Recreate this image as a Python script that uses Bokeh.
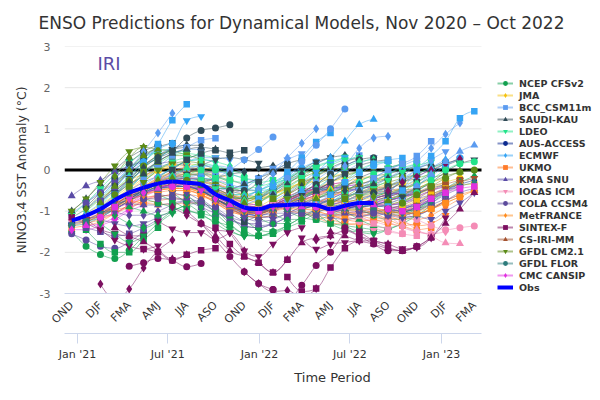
import math
from datetime import date

from bokeh.plotting import figure
from bokeh.models import (Range1d, LinearAxis, FixedTicker, Label, Legend, LegendItem,
                          ColumnDataSource)
from bokeh.core.properties import field
from bokeh.embed import file_html
from bokeh.resources import INLINE

# ---------------------------------------------------------------- data
seasons = ["OND", "NDJ", "DJF", "JFM", "FMA", "MAM", "AMJ", "MJJ", "JJA", "JAS", "ASO", "SON",
           "OND", "NDJ", "DJF", "JFM", "FMA", "MAM", "AMJ", "MJJ", "JJA", "JAS", "ASO", "SON",
           "OND", "NDJ", "DJF", "JFM", "FMA"]

# forecast issue months; issue k starts at season k and runs six seasons
issue_months = ["Nov 2020", "Dec 2020", "Jan 2021", "Feb 2021", "Mar 2021", "Apr 2021",
                "May 2021", "Jun 2021", "Jul 2021", "Aug 2021", "Sep 2021", "Oct 2021",
                "Nov 2021", "Dec 2021", "Jan 2022", "Feb 2022", "Mar 2022", "Apr 2022",
                "May 2022", "Jun 2022", "Jul 2022", "Aug 2022", "Sep 2022", "Oct 2022"]

obs_anom = [-1.23, -1.11, -0.95, -0.73, -0.55, -0.43, -0.33, -0.28, -0.31, -0.35, -0.59,
            -0.74, -0.91, -0.95, -0.86, -0.85, -0.83, -0.85, -0.95, -0.87, -0.80, -0.80]

date_ticks = [date(2021, 1, 1), date(2021, 7, 1), date(2022, 1, 1), date(2022, 7, 1), date(2023, 1, 1)]
date_tick_labels = ["Jan '21", "Jul '21", "Jan '22", "Jul '22", "Jan '23"]

y_ticks = [-3, -2, -1, 0, 1, 2, 3]

ncep_cfsv2 = [
    [-1.5, -1.85, -2.05, -2.15, -1.95, -1.6], [-1.45, -1.8, -2.0, -2.0, -1.7, -1.4],
    [-1.3, -1.55, -1.75, -1.6, -1.3, -1.05], [-1.1, -1.3, -1.4, -1.25, -1.0, -0.85],
    [-0.9, -1.0, -1.1, -1.0, -0.85, -0.8], [-0.7, -0.8, -0.9, -1.0, -1.05, -1.15],
    [-0.6, -0.75, -0.95, -1.1, -1.25, -1.35], [-0.55, -0.8, -1.05, -1.3, -1.5, -1.6],
    [-0.6, -0.9, -1.2, -1.45, -1.6, -1.6], [-0.7, -1.05, -1.35, -1.55, -1.6, -1.5],
    [-0.95, -1.3, -1.55, -1.6, -1.5, -1.35], [-1.1, -1.45, -1.6, -1.55, -1.4, -1.25],
    [-1.2, -1.45, -1.5, -1.35, -1.15, -1.0], [-1.15, -1.3, -1.3, -1.15, -0.95, -0.85],
    [-1.05, -1.2, -1.2, -1.05, -0.9, -0.85], [-1.0, -1.15, -1.2, -1.1, -1.0, -0.95],
    [-1.0, -1.2, -1.3, -1.35, -1.4, -1.45], [-1.05, -1.3, -1.45, -1.5, -1.5, -1.45],
    [-1.1, -1.35, -1.5, -1.55, -1.45, -1.3], [-1.0, -1.2, -1.35, -1.4, -1.3, -1.1],
    [-0.95, -1.1, -1.2, -1.2, -1.1, -0.85], [-0.95, -1.05, -1.1, -1.0, -0.8, -0.55],
    [-1.0, -1.05, -0.95, -0.7, -0.45, -0.25], [-1.0, -0.95, -0.75, -0.5, -0.3, -0.15]]

jma = [
    [-1.15, -0.95, -0.7, -0.45, -0.25, -0.1], [-1.05, -0.85, -0.6, -0.35, -0.15, 0.0],
    [-0.9, -0.65, -0.4, -0.15, 0.0, 0.05], [-0.7, -0.45, -0.2, 0.0, 0.1, 0.1],
    [-0.5, -0.25, -0.05, 0.1, 0.15, 0.1], [-0.4, -0.2, -0.05, 0.05, 0.05, 0.0],
    [-0.3, -0.15, -0.05, -0.05, -0.1, -0.2], [-0.25, -0.15, -0.1, -0.15, -0.25, -0.35],
    [-0.3, -0.3, -0.35, -0.45, -0.5, -0.5], [-0.4, -0.5, -0.6, -0.65, -0.65, -0.6],
    [-0.55, -0.65, -0.7, -0.65, -0.55, -0.45], [-0.7, -0.75, -0.7, -0.6, -0.45, -0.3],
    [-0.85, -0.75, -0.6, -0.45, -0.3, -0.2], [-0.9, -0.7, -0.5, -0.35, -0.25, -0.2],
    [-0.8, -0.6, -0.4, -0.25, -0.15, -0.1], [-0.8, -0.65, -0.45, -0.3, -0.2, -0.15],
    [-0.8, -0.65, -0.45, -0.3, -0.2, -0.15], [-0.8, -0.65, -0.5, -0.35, -0.25, -0.2],
    [-0.9, -0.75, -0.6, -0.45, -0.35, -0.3], [-0.8, -0.7, -0.55, -0.45, -0.35, -0.3],
    [-0.75, -0.65, -0.55, -0.45, -0.35, -0.25], [-0.75, -0.7, -0.6, -0.45, -0.3, -0.2],
    [-0.85, -0.75, -0.6, -0.45, -0.3, -0.2], [-0.9, -0.75, -0.6, -0.45, -0.35, -0.35]]

bcc_csm11m = [
    [-1.05, -0.8, -0.5, -0.2, 0.05, 0.25], [-0.95, -0.65, -0.3, 0.05, 0.35, 0.55],
    [-0.8, -0.45, 0.0, 0.45, 0.9, 1.38], [-0.6, -0.3, 0.05, 0.35, 0.55, 0.6],
    [-0.45, -0.1, 0.2, 0.4, 0.5, 0.5], [-0.25, 0.05, 0.35, 0.55, 0.72, 0.77],
    [-0.2, 0.05, 0.2, 0.3, 0.3, 0.25], [-0.15, 0.0, 0.1, 0.1, 0.05, -0.05],
    [-0.2, -0.1, -0.05, -0.1, -0.2, -0.3], [-0.3, -0.2, 0.0, 0.25, 0.5, 0.8],
    [-0.5, -0.45, -0.35, -0.2, 0.0, 0.15], [-0.6, -0.45, -0.2, 0.05, 0.25, 0.4],
    [-0.75, -0.45, -0.1, 0.3, 0.65, 1.0], [-0.8, -0.55, -0.3, -0.05, 0.15, 0.3],
    [-0.6, -0.2, 0.2, 0.6, 1.0, 1.48], [-0.7, -0.5, -0.25, 0.0, 0.2, 0.35],
    [-0.7, -0.5, -0.3, -0.05, 0.15, 0.3], [-0.5, -0.2, 0.1, 0.53, 0.78, 0.82],
    [-0.8, -0.6, -0.4, -0.2, 0.0, 0.15], [-0.7, -0.5, -0.3, -0.1, 0.1, 0.25],
    [-0.5, -0.2, 0.0, 0.15, 0.34, 0.7], [-0.7, -0.5, -0.25, 0.0, 0.25, 0.45],
    [-0.6, -0.2, 0.2, 0.53, 0.87, 1.14], [-0.7, -0.4, -0.1, 0.2, 0.45, 0.6]]

saudi_kau = [
    [-1.0, -0.7, -0.35, 0.0, 0.3, 0.5], [-0.9, -0.55, -0.2, 0.15, 0.45, 0.6],
    [-0.75, -0.4, -0.05, 0.3, 0.55, 0.65], [-0.55, -0.2, 0.1, 0.35, 0.5, 0.55],
    [-0.3, 0.05, 0.3, 0.5, 0.6, 0.6], [-0.1, 0.2, 0.4, 0.5, 0.55, 0.5],
    [0.3, 0.46, 0.78, 0.96, 1.02, 1.1], [0.0, 0.25, 0.4, 0.48, 0.42, 0.48],
    [-0.1, 0.1, 0.25, 0.3, 0.25, 0.17], [-0.3, -0.2, -0.1, -0.05, 0.05, 0.1],
    [-0.45, -0.45, -0.35, -0.2, -0.05, 0.1], [-0.5, -0.5, -0.3, -0.05, 0.15, 0.25],
    [-1.26, -1.1, -0.9, -0.6, -0.35, -0.15], [-0.7, -0.5, -0.25, 0.0, 0.2, 0.3],
    [-0.6, -0.35, -0.1, 0.15, 0.3, 0.35], [-0.6, -0.4, -0.15, 0.05, 0.2, 0.3],
    [-0.55, -0.35, -0.1, 0.1, 0.25, 0.3], [-0.5, -0.3, -0.1, 0.1, 0.2, 0.25],
    [-0.6, -0.4, -0.2, -0.05, 0.05, 0.15], [-0.5, -0.35, -0.25, -0.1, 0.0, 0.1],
    [-0.5, -0.35, -0.2, -0.05, 0.05, 0.15], [-0.55, -0.4, -0.25, -0.1, 0.05, 0.2],
    [-0.6, -0.45, -0.3, -0.1, 0.1, 0.25], [-0.65, -0.5, -0.3, -0.05, 0.15, 0.25]]

ldeo = [
    [-1.1, -0.8, -0.45, -0.1, 0.2, 0.4], [-1.0, -0.7, -0.35, 0.0, 0.3, 0.45],
    [-0.85, -0.5, -0.15, 0.2, 0.45, 0.5], [-0.65, -0.3, 0.05, 0.3, 0.45, 0.45],
    [-0.45, -0.1, 0.15, 0.35, 0.4, 0.35], [-0.3, 0.0, 0.2, 0.3, 0.35, 0.3],
    [-0.2, 0.05, 0.2, 0.25, 0.2, 0.1], [-0.15, 0.05, 0.15, 0.1, 0.0, -0.1],
    [-0.15, 0.0, 0.0, -0.1, -0.2, -0.25], [-0.25, -0.2, -0.25, -0.3, -0.3, -0.25],
    [-0.45, -0.45, -0.45, -0.4, -0.3, -0.15], [-0.6, -0.6, -0.5, -0.35, -0.2, -0.05],
    [-0.75, -0.6, -0.4, -0.2, 0.0, 0.15], [-0.8, -0.55, -0.3, -0.1, 0.1, 0.2],
    [-0.7, -0.45, -0.2, 0.05, 0.2, 0.3], [-0.7, -0.45, -0.15, 0.1, 0.25, 0.3],
    [-0.7, -0.45, -0.2, 0.05, 0.2, 0.25], [-0.7, -0.5, -0.25, 0.0, 0.15, 0.2],
    [-0.8, -0.55, -0.3, -0.1, 0.05, 0.15], [-0.7, -0.5, -0.3, -0.1, 0.05, 0.15],
    [-0.65, -0.45, -0.25, -0.05, 0.1, 0.2], [-0.65, -0.5, -0.3, -0.1, 0.05, 0.15],
    [-0.75, -0.55, -0.3, -0.05, 0.15, 0.25], [-0.8, -0.55, -0.25, 0.0, 0.15, 0.2]]

aus_access = [
    [-1.3, -1.25, -1.1, -0.9, -0.7, -0.55], [-1.2, -1.1, -0.95, -0.75, -0.55, -0.4],
    [-1.05, -0.9, -0.7, -0.5, -0.35, -0.25], [-0.85, -0.7, -0.5, -0.3, -0.2, -0.15],
    [-0.65, -0.5, -0.35, -0.25, -0.2, -0.25], [-0.55, -0.45, -0.35, -0.3, -0.35, -0.45],
    [-0.45, -0.4, -0.35, -0.45, -0.6, -0.75], [-0.4, -0.4, -0.5, -0.7, -0.9, -1.0],
    [-0.4, -0.5, -0.7, -0.87, -1.0, -1.05], [-0.5, -0.7, -0.9, -1.11, -1.15, -1.1],
    [-0.7, -0.87, -1.05, -1.1, -1.0, -0.85], [-0.85, -1.0, -1.05, -0.95, -0.8, -0.65],
    [-1.0, -1.0, -0.9, -0.75, -0.6, -0.5], [-1.05, -0.95, -0.8, -0.65, -0.5, -0.4],
    [-0.95, -0.85, -0.7, -0.55, -0.45, -0.4], [-0.95, -0.85, -0.7, -0.6, -0.5, -0.45],
    [-0.95, -0.85, -0.75, -0.65, -0.55, -0.5], [-0.95, -0.9, -0.8, -0.7, -0.6, -0.55],
    [-1.05, -0.95, -0.85, -0.7, -0.6, -0.55], [-0.95, -0.85, -0.75, -0.65, -0.55, -0.5],
    [-0.9, -0.85, -0.75, -0.65, -0.55, -0.45], [-0.9, -0.85, -0.75, -0.6, -0.45, -0.35],
    [-1.0, -0.95, -0.8, -0.6, -0.45, -0.35], [-1.05, -0.9, -0.7, -0.5, -0.35, -0.25]]

ecmwf = [
    [-1.15, -0.95, -0.65, -0.3, 0.0, 0.2], [-1.05, -0.8, -0.45, -0.05, 0.3, 0.5],
    [-0.9, -0.6, -0.2, 0.2, 0.5, 0.65], [-0.6, -0.25, 0.15, 0.63, 1.21, 1.6],
    [-0.45, -0.1, 0.25, 0.6, 1.2, 1.3], [-0.35, -0.15, 0.05, 0.2, 0.25, 0.2],
    [-0.3, -0.1, 0.05, 0.1, 0.05, -0.05], [-0.25, -0.15, -0.1, -0.15, -0.25, -0.35],
    [-0.25, -0.2, -0.25, -0.35, -0.45, -0.5], [-0.35, -0.4, -0.45, -0.5, -0.5, -0.45],
    [-0.55, -0.6, -0.6, -0.5, -0.35, -0.2], [-0.7, -0.65, -0.5, -0.3, -0.1, 0.05],
    [-0.85, -0.7, -0.45, -0.2, 0.05, 0.2], [-0.7, -0.4, -0.05, 0.3, 0.68, 0.9],
    [-0.75, -0.55, -0.3, -0.05, 0.15, 0.3], [-0.8, -0.6, -0.35, -0.1, 0.1, 0.25],
    [-0.5, -0.1, 0.3, 0.7, 1.1, 1.23], [-0.8, -0.6, -0.35, -0.1, 0.1, 0.2],
    [-0.6, -0.3, -0.05, 0.15, 0.24, 0.29], [-0.75, -0.6, -0.4, -0.2, 0.0, 0.15],
    [-0.75, -0.6, -0.4, -0.2, 0.0, 0.2], [-0.8, -0.65, -0.45, -0.2, 0.05, 0.25],
    [-0.85, -0.65, -0.4, -0.15, 0.1, 0.3], [-0.5, 0.0, 0.34, 0.7, 1.26, 1.43]]

ukmo = [
    [-1.4, -1.35, -1.25, -1.05, -0.85, -0.7], [-1.3, -1.2, -1.05, -0.85, -0.7, -0.6],
    [-1.15, -1.05, -0.9, -0.75, -0.65, -0.6], [-0.95, -0.9, -0.8, -0.75, -0.7, -0.7],
    [-0.75, -0.8, -0.83, -0.83, -0.8, -0.8], [-0.65, -0.65, -0.6, -0.6, -0.65, -0.75],
    [-0.55, -0.5, -0.5, -0.6, -0.75, -0.9], [-0.5, -0.5, -0.6, -0.8, -1.0, -1.1],
    [-0.5, -0.6, -0.8, -1.0, -1.1, -1.15], [-0.6, -0.75, -0.95, -1.1, -1.15, -1.1],
    [-0.8, -0.95, -1.05, -1.05, -0.95, -0.85], [-0.95, -1.05, -1.05, -0.95, -0.8, -0.7],
    [-1.05, -1.05, -0.95, -0.8, -0.7, -0.65], [-1.1, -1.0, -0.9, -0.85, -0.9, -0.95],
    [-1.0, -0.95, -0.95, -1.0, -1.1, -1.2], [-1.0, -1.05, -1.15, -1.28, -1.31, -1.3],
    [-1.0, -1.1, -1.2, -1.3, -1.33, -1.3], [-1.0, -1.1, -1.2, -1.25, -1.2, -1.15],
    [-1.1, -1.15, -1.2, -1.23, -1.2, -1.15], [-1.0, -1.1, -1.2, -1.3, -1.35, -1.3],
    [-0.95, -1.05, -1.2, -1.35, -1.45, -1.4], [-0.95, -1.1, -1.25, -1.35, -1.3, -1.1],
    [-1.05, -1.15, -1.2, -1.1, -0.9, -0.7], [-1.05, -1.05, -0.95, -0.75, -0.6, -0.5]]

kma_snu = [
    [-0.63, -0.39, -0.25, -0.05, 0.1, 0.2], [-0.8, -0.55, -0.3, -0.05, 0.15, 0.25],
    [-0.75, -0.5, -0.25, 0.0, 0.15, 0.2], [-0.6, -0.35, -0.15, 0.05, 0.15, 0.1],
    [-0.5, -0.3, -0.15, 0.0, 0.05, 0.0], [-0.5, -0.35, -0.25, -0.2, -0.2, -0.3],
    [-0.45, -0.4, -0.4, -0.5, -0.6, -0.75], [-0.35, -0.3, -0.35, -0.5, -0.65, -0.8],
    [-0.4, -0.5, -0.65, -0.82, -1.0, -1.15], [-0.5, -0.7, -0.9, -1.05, -1.1, -1.05],
    [-0.75, -0.95, -1.05, -1.05, -0.95, -0.8], [-0.9, -1.0, -1.0, -0.9, -0.75, -0.6],
    [-1.0, -0.95, -0.85, -0.7, -0.55, -0.45], [-1.05, -0.95, -0.8, -0.65, -0.5, -0.45],
    [-0.95, -0.85, -0.7, -0.55, -0.45, -0.4], [-0.9, -0.8, -0.65, -0.5, -0.4, -0.35],
    [-0.9, -0.8, -0.7, -0.55, -0.45, -0.4], [-0.9, -0.85, -0.75, -0.6, -0.5, -0.45],
    [-1.0, -0.95, -0.85, -0.7, -0.6, -0.55], [-0.9, -0.9, -0.85, -0.75, -0.65, -0.6],
    [-0.85, -0.85, -0.85, -0.8, -0.7, -0.6], [-0.85, -0.9, -0.9, -0.85, -0.7, -0.55],
    [-0.95, -1.0, -0.95, -0.8, -0.6, -0.45], [-1.0, -1.1, -1.2, -1.0, -0.8, -0.55]]

iocas_icm = [
    [-1.25, -1.2, -1.1, -0.95, -0.8, -0.65], [-1.15, -1.05, -0.9, -0.7, -0.5, -0.35],
    [-1.0, -0.85, -0.65, -0.45, -0.3, -0.2], [-0.8, -0.6, -0.4, -0.2, -0.1, -0.05],
    [-0.6, -0.4, -0.2, -0.05, 0.0, -0.05], [-0.45, -0.25, -0.1, 0.0, 0.0, -0.1],
    [-0.35, -0.2, -0.1, -0.1, -0.2, -0.35], [-0.3, -0.2, -0.2, -0.3, -0.45, -0.6],
    [-0.3, -0.3, -0.4, -0.55, -0.7, -0.8], [-0.4, -0.5, -0.65, -0.8, -0.9, -0.9],
    [-0.6, -0.75, -0.9, -0.95, -0.95, -0.9], [-0.75, -0.9, -0.95, -0.95, -0.9, -0.8],
    [-0.9, -0.95, -0.95, -0.9, -0.8, -0.7], [-0.95, -0.95, -0.9, -0.85, -0.75, -0.7],
    [-0.85, -0.85, -0.85, -0.8, -0.75, -0.75], [-0.85, -0.9, -0.9, -0.9, -0.9, -0.95],
    [-0.85, -0.9, -0.95, -1.0, -1.05, -1.1], [-0.85, -0.95, -1.05, -1.15, -1.25, -1.35],
    [-0.95, -1.1, -1.25, -1.4, -1.5, -1.55], [-0.9, -1.1, -1.3, -1.45, -1.55, -1.6],
    [-0.85, -1.05, -1.25, -1.4, -1.5, -1.55], [-0.85, -1.1, -1.35, -1.5, -1.55, -1.5],
    [-0.95, -1.2, -1.45, -1.6, -1.77, -1.79], [-1.0, -1.2, -1.35, -1.45, -1.4, -1.36]]

cola_ccsm4 = [
    [-1.55, -1.7, -1.85, -1.9, -1.75, -1.5], [-1.4, -1.5, -1.6, -1.55, -1.4, -1.2],
    [-1.2, -1.3, -1.36, -1.3, -1.15, -1.0], [-1.0, -1.1, -1.1, -1.0, -0.85, -0.75],
    [-0.8, -0.85, -0.85, -0.8, -0.75, -0.75], [-0.7, -0.7, -0.7, -0.75, -0.82, -0.9],
    [-0.6, -0.65, -0.75, -0.9, -1.05, -1.15], [-0.55, -0.65, -0.82, -1.0, -1.15, -1.25],
    [-0.55, -0.75, -1.0, -1.2, -1.3, -1.3], [-0.7, -0.95, -1.2, -1.35, -1.4, -1.3],
    [-0.9, -1.15, -1.35, -1.4, -1.3, -1.15], [-1.05, -1.25, -1.35, -1.3, -1.15, -1.0],
    [-1.15, -1.25, -1.2, -1.05, -0.9, -0.8], [-1.15, -1.15, -1.05, -0.9, -0.8, -0.75],
    [-1.05, -1.05, -0.95, -0.85, -0.75, -0.75], [-1.05, -1.05, -1.0, -0.95, -0.9, -0.85],
    [-1.05, -1.1, -1.1, -1.05, -1.0, -0.95], [-1.05, -1.1, -1.1, -1.05, -1.0, -0.95],
    [-1.15, -1.2, -1.15, -1.05, -0.95, -0.85], [-1.05, -1.1, -1.1, -1.05, -0.95, -0.85],
    [-1.0, -1.05, -1.05, -1.0, -0.9, -0.75], [-1.0, -1.1, -1.1, -1.0, -0.85, -0.7],
    [-1.1, -1.15, -1.1, -0.95, -0.75, -0.6], [-1.15, -1.1, -0.95, -0.75, -0.55, -0.45]]

metfrance = [
    [-1.35, -1.25, -1.1, -0.85, -0.6, -0.45], [-1.25, -1.1, -0.9, -0.65, -0.45, -0.35],
    [-1.1, -0.9, -0.7, -0.5, -0.35, -0.3], [-0.9, -0.75, -0.6, -0.45, -0.35, -0.35],
    [-0.7, -0.6, -0.5, -0.45, -0.4, -0.45], [-0.6, -0.5, -0.45, -0.45, -0.5, -0.6],
    [-0.5, -0.45, -0.45, -0.55, -0.65, -0.75], [-0.45, -0.45, -0.55, -0.7, -0.85, -0.95],
    [-0.45, -0.55, -0.7, -0.85, -0.95, -1.0], [-0.55, -0.7, -0.85, -0.95, -1.0, -0.95],
    [-0.75, -0.9, -1.0, -1.0, -0.9, -0.8], [-0.9, -1.0, -1.0, -0.9, -0.75, -0.65],
    [-1.0, -1.0, -0.9, -0.75, -0.6, -0.55], [-1.05, -0.95, -0.8, -0.65, -0.55, -0.5],
    [-0.95, -0.85, -0.75, -0.65, -0.55, -0.55], [-0.95, -0.9, -0.85, -0.8, -0.75, -0.75],
    [-0.95, -0.95, -0.95, -0.95, -0.95, -0.95], [-0.95, -1.0, -1.05, -1.05, -1.0, -0.95],
    [-1.05, -1.1, -1.1, -1.05, -1.0, -0.9], [-0.95, -1.0, -1.05, -1.05, -1.0, -0.9],
    [-0.9, -0.95, -1.0, -1.0, -0.95, -0.85], [-0.9, -1.0, -1.05, -1.0, -0.9, -0.75],
    [-1.0, -1.05, -1.05, -0.95, -0.8, -0.65], [-1.05, -1.05, -0.95, -0.8, -0.65, -0.5]]

sintex_f = [
    [-1.15, -1.3, -1.45, -1.55, -1.6, -1.6], [-1.2, -1.45, -1.7, -1.85, -1.92, -1.84],
    [-2.77, -3.15, -2.89, -2.38, -1.96, -1.7], [-1.4, -1.6, -1.75, -1.95, -2.16, -2.06],
    [-2.34, -2.25, -2.15, -2.2, -2.35, -2.27], [-1.92, -2.0, -2.19, -2.06, -1.95, -1.9],
    [-1.24, -1.43, -1.52, -1.52, -1.68, -1.52], [-0.9, -1.1, -1.3, -1.45, -1.52, -1.96],
    [-1.0, -1.3, -1.6, -1.96, -2.1, -2.25], [-1.3, -1.7, -2.1, -2.47, -2.76, -2.9],
    [-1.4, -1.8, -2.1, -2.25, -2.49, -2.18], [-1.52, -1.96, -2.1, -1.8, -1.52, -1.4],
    [-2.47, -2.76, -2.95, -2.93, -3.1, -2.88], [-2.25, -2.49, -2.18, -1.77, -1.65, -1.6],
    [-2.9, -3.15, -2.8, -2.32, -2.0, -1.48], [-2.6, -2.95, -2.88, -2.37, -1.9, -1.7],
    [-1.65, -1.92, -1.8, -1.76, -1.72, -1.72], [-1.7, -1.6, -1.48, -1.6, -1.72, -1.8],
    [-1.5, -1.6, -1.72, -1.8, -1.91, -1.96], [-1.4, -1.6, -1.8, -1.96, -1.96, -1.86],
    [-1.5, -1.72, -1.88, -1.96, -1.86, -1.64], [-1.72, -1.8, -1.91, -1.88, -1.65, -1.16],
    [-0.5, -0.3, -0.15, 0.0, 0.15, 0.27], [-1.96, -1.86, -1.64, -1.3, -0.95, -0.55]]

cs_iri_mm = [
    [-1.3, -1.2, -1.05, -0.85, -0.65, -0.5], [-1.2, -1.05, -0.85, -0.6, -0.4, -0.3],
    [-1.0, -0.85, -0.6, -0.4, -0.25, -0.2], [-0.8, -0.65, -0.45, -0.25, -0.15, -0.15],
    [-0.6, -0.45, -0.3, -0.15, -0.1, -0.15], [-0.5, -0.4, -0.3, -0.2, -0.2, -0.3],
    [-0.4, -0.35, -0.3, -0.3, -0.35, -0.45], [-0.35, -0.3, -0.35, -0.45, -0.6, -0.7],
    [-0.35, -0.4, -0.5, -0.65, -0.8, -0.85], [-0.45, -0.55, -0.7, -0.85, -0.9, -0.85],
    [-0.65, -0.8, -0.9, -0.9, -0.85, -0.75], [-0.8, -0.9, -0.9, -0.85, -0.7, -0.6],
    [-0.95, -0.9, -0.8, -0.65, -0.5, -0.4], [-1.0, -0.85, -0.7, -0.55, -0.45, -0.4],
    [-0.9, -0.75, -0.6, -0.45, -0.35, -0.3], [-0.9, -0.75, -0.6, -0.45, -0.35, -0.3],
    [-0.9, -0.8, -0.65, -0.5, -0.4, -0.35], [-0.9, -0.8, -0.65, -0.55, -0.45, -0.4],
    [-1.0, -0.9, -0.75, -0.6, -0.5, -0.45], [-0.9, -0.8, -0.7, -0.6, -0.5, -0.45],
    [-0.85, -0.75, -0.65, -0.55, -0.45, -0.35], [-0.85, -0.8, -0.7, -0.55, -0.4, -0.3],
    [-0.95, -0.85, -0.7, -0.5, -0.35, -0.25], [-1.0, -0.85, -0.65, -0.45, -0.3, -0.2]]

gfdl_cm21 = [
    [-1.0, -0.7, -0.3, 0.1, 0.45, 0.55], [-0.95, -0.6, -0.15, 0.3, 0.55, 0.5],
    [-0.8, -0.4, 0.0, 0.35, 0.5, 0.45], [-0.6, -0.25, 0.1, 0.35, 0.45, 0.35],
    [-0.4, -0.05, 0.2, 0.35, 0.35, 0.25], [-0.3, 0.0, 0.15, 0.2, 0.15, 0.0],
    [-0.25, -0.05, 0.0, -0.05, -0.15, -0.3], [-0.2, -0.1, -0.1, -0.25, -0.4, -0.55],
    [-0.25, -0.25, -0.35, -0.5, -0.6, -0.65], [-0.35, -0.45, -0.6, -0.7, -0.7, -0.6],
    [-0.55, -0.65, -0.7, -0.65, -0.5, -0.35], [-0.65, -0.7, -0.6, -0.45, -0.3, -0.15],
    [-0.8, -0.65, -0.45, -0.25, -0.1, 0.0], [-0.8, -0.6, -0.4, -0.2, -0.05, 0.05],
    [-0.7, -0.5, -0.3, -0.15, 0.0, 0.05], [-0.7, -0.55, -0.35, -0.2, -0.1, -0.05],
    [-0.7, -0.5, -0.3, -0.15, -0.05, 0.0], [-0.7, -0.55, -0.4, -0.25, -0.15, -0.1],
    [-0.8, -0.65, -0.45, -0.3, -0.2, -0.15], [-0.7, -0.55, -0.4, -0.3, -0.2, -0.1],
    [-0.65, -0.5, -0.4, -0.3, -0.2, -0.1], [-0.65, -0.55, -0.45, -0.35, -0.2, -0.1],
    [-0.75, -0.6, -0.45, -0.3, -0.15, -0.05], [-0.8, -0.6, -0.4, -0.2, -0.05, 0.0]]

gfdl_flor = [
    [-1.35, -1.3, -1.15, -0.95, -0.75, -0.6], [-1.25, -1.15, -0.95, -0.75, -0.55, -0.4],
    [-1.05, -0.95, -0.75, -0.55, -0.4, -0.3], [-0.85, -0.7, -0.5, -0.35, -0.25, -0.25],
    [-0.65, -0.5, -0.35, -0.25, -0.2, -0.25], [-0.55, -0.45, -0.35, -0.3, -0.3, -0.4],
    [-0.45, -0.4, -0.35, -0.4, -0.5, -0.6], [-0.4, -0.4, -0.45, -0.6, -0.75, -0.85],
    [-0.4, -0.5, -0.6, -0.75, -0.9, -0.95], [-0.5, -0.65, -0.8, -0.95, -1.0, -0.95],
    [-0.7, -0.85, -0.95, -0.95, -0.9, -0.8], [-0.85, -0.95, -0.95, -0.9, -0.8, -0.7],
    [-1.0, -0.95, -0.85, -0.7, -0.55, -0.45], [-1.05, -0.9, -0.75, -0.6, -0.5, -0.45],
    [-0.95, -0.8, -0.65, -0.5, -0.4, -0.35], [-0.95, -0.8, -0.7, -0.55, -0.45, -0.4],
    [-0.95, -0.85, -0.7, -0.55, -0.45, -0.4], [-0.95, -0.85, -0.75, -0.65, -0.55, -0.5],
    [-1.05, -0.95, -0.85, -0.7, -0.6, -0.5], [-0.95, -0.9, -0.8, -0.7, -0.6, -0.5],
    [-0.9, -0.85, -0.75, -0.65, -0.55, -0.45], [-0.9, -0.85, -0.8, -0.65, -0.5, -0.4],
    [-1.0, -0.9, -0.8, -0.65, -0.5, -0.4], [-1.05, -0.9, -0.75, -0.55, -0.4, -0.3]]

cmc_cansip = [
    [-1.45, -1.45, -1.35, -1.2, -1.0, -0.85], [-1.35, -1.3, -1.15, -0.95, -0.75, -0.6],
    [-1.15, -1.05, -0.85, -0.65, -0.5, -0.4], [-0.9, -0.8, -0.6, -0.45, -0.35, -0.35],
    [-0.7, -0.6, -0.45, -0.35, -0.3, -0.35], [-0.55, -0.45, -0.35, -0.3, -0.35, -0.45],
    [-0.45, -0.35, -0.3, -0.35, -0.45, -0.6], [-0.4, -0.35, -0.4, -0.5, -0.65, -0.75],
    [-0.4, -0.45, -0.55, -0.7, -0.8, -0.85], [-0.5, -0.6, -0.75, -0.85, -0.9, -0.85],
    [-0.7, -0.8, -0.9, -0.9, -0.85, -0.75], [-0.85, -0.95, -0.95, -0.85, -0.7, -0.6],
    [-0.95, -0.9, -0.8, -0.65, -0.5, -0.4], [-1.0, -0.85, -0.7, -0.55, -0.45, -0.4],
    [-0.9, -0.75, -0.6, -0.45, -0.35, -0.3], [-0.9, -0.75, -0.6, -0.5, -0.4, -0.35],
    [-0.9, -0.8, -0.65, -0.55, -0.45, -0.4], [-0.9, -0.85, -0.75, -0.6, -0.5, -0.45],
    [-1.0, -0.95, -0.85, -0.7, -0.6, -0.55], [-0.9, -0.85, -0.8, -0.7, -0.6, -0.5],
    [-0.85, -0.8, -0.75, -0.65, -0.55, -0.45], [-0.85, -0.85, -0.8, -0.65, -0.5, -0.4],
    [-0.95, -0.9, -0.8, -0.65, -0.5, -0.4], [-1.0, -0.9, -0.7, -0.55, -0.45, -0.4]]

model_names = ["NCEP CFSv2", "JMA", "BCC_CSM11m", "SAUDI-KAU", "LDEO", "AUS-ACCESS", "ECMWF",
               "UKMO", "KMA SNU", "IOCAS ICM", "COLA CCSM4", "MetFRANCE", "SINTEX-F",
               "CS-IRI-MM", "GFDL CM2.1", "GFDL FLOR", "CMC CANSIP"]
model_runs = [ncep_cfsv2, jma, bcc_csm11m, saudi_kau, ldeo, aus_access, ecmwf, ukmo, kma_snu,
              iocas_icm, cola_ccsm4, metfrance, sintex_f, cs_iri_mm, gfdl_cm21, gfdl_flor,
              cmc_cansip]

# ---------------------------------------------------------------- style
model_colors = ["#12a04f", "#f5c10e", "#5b9bf0", "#2f4a56", "#22e38a", "#0c2a8f", "#35a4f4",
                "#ff7b29", "#5a4ba6", "#f48cb6", "#5c4a9c", "#ff8b1d", "#7c0f60", "#a4522f",
                "#5b8a17", "#2d7b7b", "#e030e0"]
symbols = ["circle", "diamond", "square", "triangle", "inverted_triangle"]
symbol_size = {"circle": 7, "diamond": 9, "square": 6.5, "triangle": 8, "inverted_triangle": 8}
FONT = "DejaVu Sans"

# plot area: 417 px wide for the 29 seasons, legend strip of 119 px to its right
PLOT_W, STRIP_W = 417, 119
X0, X1 = -0.5, len(seasons) - 0.5
X_END = X0 + (PLOT_W + STRIP_W) * (X1 - X0) / PLOT_W
D0, D1 = -26, 810                      # days from 1 Jan 2021 spanned by the plot area
D_END = D0 + (PLOT_W + STRIP_W) * (D1 - D0) / PLOT_W
SEG_KEYS = ("x0", "y0", "x1", "y1", "cx0", "cy0", "cx1", "cy1")


def spline_segments(xs, ys):
    """Cubic segments with the control points of a Highcharts-style spline."""
    n = len(xs)
    lc = [(xs[i], ys[i]) for i in range(n)]
    rc = [(xs[i], ys[i]) for i in range(n)]
    sm, den = 1.5, 2.5
    for i in range(1, n - 1):
        x, y = xs[i], ys[i]
        xp, yp, xn, yn = xs[i - 1], ys[i - 1], xs[i + 1], ys[i + 1]
        lcx, lcy = (sm * x + xp) / den, (sm * y + yp) / den
        rcx, rcy = (sm * x + xn) / den, (sm * y + yn) / den
        corr = (rcy - lcy) * (rcx - x) / (rcx - lcx) + y - rcy
        lcy += corr
        rcy += corr
        if lcy > yp and lcy > y:
            lcy = max(yp, y); rcy = 2 * y - lcy
        elif lcy < yp and lcy < y:
            lcy = min(yp, y); rcy = 2 * y - lcy
        if rcy > yn and rcy > y:
            rcy = max(yn, y); lcy = 2 * y - rcy
        elif rcy < yn and rcy < y:
            rcy = min(yn, y); lcy = 2 * y - rcy
        lc[i] = (lcx, lcy)
        rc[i] = (rcx, rcy)
    out = []
    for i in range(1, n):
        out.append((xs[i - 1], ys[i - 1], xs[i], ys[i], rc[i - 1][0], rc[i - 1][1], lc[i][0], lc[i][1]))
    return out


# all series in issue order (so later issues sit on top); markers cycle over the series
n_models = len(model_runs)
seg = {k: [] for k in SEG_KEYS + ("color",)}
pts = {k: [] for k in ("x", "y", "marker", "size", "color")}
for k, _month in enumerate(issue_months):
    for m, runs in enumerate(model_runs):
        vals = runs[k]
        xs = [k + j for j in range(len(vals))]
        for s in spline_segments(xs, vals):
            for key, v in zip(SEG_KEYS, s):
                seg[key].append(v)
            seg["color"].append(model_colors[m])
        mk = symbols[(k * n_models + m) % len(symbols)]
        for x, y in zip(xs, vals):
            pts["x"].append(x)
            pts["y"].append(y)
            pts["marker"].append(mk)
            pts["size"].append(symbol_size[mk])
            pts["color"].append(model_colors[m])

obs_seg = {k: [] for k in SEG_KEYS}
for s in spline_segments(list(range(len(obs_anom))), obs_anom):
    for key, v in zip(SEG_KEYS, s):
        obs_seg[key].append(v)

# ---------------------------------------------------------------- figure
p = figure(width=600, height=400, x_range=Range1d(X0, X_END), y_range=Range1d(-3, 3),
           x_axis_type=None, y_axis_type=None, output_backend="svg", toolbar_location=None,
           min_border_left=64, min_border_right=0, min_border_top=45, min_border_bottom=107,
           outline_line_color=None, background_fill_color="white", border_fill_color="white")

p.title.text = "ENSO Predictions for Dynamical Models, Nov 2020 \u2013 Oct 2022"
p.title.text_font = FONT
p.title.text_font_size = "17px"
p.title.text_font_style = "normal"
p.title.text_color = "#333333"
p.title.align = "left"
p.title.offset = -26
p.title.vertical_align = "top"
p.title.standoff = 24

yaxis = LinearAxis(ticker=FixedTicker(ticks=y_ticks),
                   major_label_overrides={t: str(t) for t in y_ticks},
                   axis_label="NINO3.4 SST Anomaly (\u00b0C)")
yaxis.axis_line_color = None
yaxis.major_tick_line_color = None
yaxis.minor_tick_line_color = None
yaxis.major_tick_out = 0
yaxis.major_label_standoff = 14
yaxis.major_label_text_font = FONT
yaxis.major_label_text_font_size = "11px"
yaxis.major_label_text_color = "#666666"
yaxis.axis_label_text_font = FONT
yaxis.axis_label_text_font_size = "12.5px"
yaxis.axis_label_text_font_style = "normal"
yaxis.axis_label_text_color = "#333333"
yaxis.axis_label_standoff = 8
p.add_layout(yaxis, "left")

# horizontal grid lines, limited to the plot area
grid_vals = [t for t in y_ticks if t != y_ticks[0]]
p.segment(x0=[X0] * len(grid_vals), x1=[X1] * len(grid_vals), y0=grid_vals, y1=grid_vals,
          line_color="#e6e6e6", line_width=1, level="underlay")
p.segment(x0=[X0], x1=[X1], y0=[0], y1=[0], line_color="black", line_width=3, level="underlay")

season_ticks = list(range(0, len(seasons), 2))
sax = LinearAxis(ticker=FixedTicker(ticks=season_ticks), bounds=(X0, X1),
                 major_label_overrides={t: seasons[t] for t in season_ticks})
sax.major_label_orientation = math.pi / 4
sax.axis_line_color = "#ccd6eb"
sax.major_tick_line_color = None
sax.minor_tick_line_color = None
sax.major_tick_out = 0
sax.major_label_standoff = 10
sax.major_label_text_font = FONT
sax.major_label_text_font_size = "11px"
sax.major_label_text_color = "#333333"
p.add_layout(sax, "below")

day0 = date(2021, 1, 1)
day_ticks = [(d - day0).days for d in date_ticks]
p.extra_x_ranges = {"dates": Range1d(D0, D_END)}
dax = LinearAxis(x_range_name="dates", ticker=FixedTicker(ticks=day_ticks), bounds=(D0, D1),
                 major_label_overrides=dict(zip(day_ticks, date_tick_labels)),
                 axis_label="Time Period")
dax.axis_line_color = "#ccd6eb"
dax.major_tick_line_color = "#ccd6eb"
dax.major_tick_in = 0
dax.major_tick_out = 10
dax.minor_tick_line_color = None
dax.major_label_standoff = 4
dax.major_label_text_font = FONT
dax.major_label_text_font_size = "11px"
dax.major_label_text_color = "#333333"
dax.axis_label_text_font = FONT
dax.axis_label_text_font_size = "13px"
dax.axis_label_text_font_style = "normal"
dax.axis_label_text_color = "#333333"
dax.axis_label_standoff = 6
p.add_layout(dax, "below")

p.bezier(x0="x0", y0="y0", x1="x1", y1="y1", cx0="cx0", cy0="cy0", cx1="cx1", cy1="cy1",
         source=ColumnDataSource(seg), line_color="color", line_alpha=0.5, line_width=1)
p.scatter(x="x", y="y", source=ColumnDataSource(pts), marker=field("marker"), size="size",
          fill_color="color", line_color=None)
obs_r = p.bezier(x0="x0", y0="y0", x1="x1", y1="y1", cx0="cx0", cy0="cy0", cx1="cx1", cy1="cy1",
                 source=ColumnDataSource(obs_seg), line_color="#0000ff", line_width=4)

p.add_layout(Label(x=33, y=230, x_units="screen", y_units="screen", text="IRI",
                   text_font=FONT, text_font_size="18px", text_color="#5b4ca6",
                   text_baseline="middle"))

# legend keys: hidden per-model renderers built from each model's first forecast
items = []
for m, name in enumerate(model_names):
    first = model_runs[m][0]
    xs = list(range(len(first)))
    mk = symbols[m % len(symbols)]
    lr = p.line(xs, first, line_color=model_colors[m], line_alpha=0.5, line_width=2, visible=False)
    sr = p.scatter(xs[:1], first[:1], marker=mk, size=symbol_size[mk], fill_color=model_colors[m],
                   line_color=None, visible=False)
    items.append(LegendItem(label=name, renderers=[lr, sr]))
items.append(LegendItem(label="Obs", renderers=[obs_r]))

legend = Legend(items=items, location=(PLOT_W + 16, 0), orientation="vertical")
legend.background_fill_alpha = 0
legend.border_line_color = None
legend.inactive_fill_alpha = 0
legend.padding = 0
legend.margin = 0
legend.spacing = 0
legend.glyph_width = 16
legend.glyph_height = 12
legend.label_height = 12
legend.label_standoff = 6
legend.label_text_font = FONT
legend.label_text_font_size = "9.5px"
legend.label_text_font_style = "bold"
legend.label_text_color = "#333333"
p.add_layout(legend)

open("out.html", "w").write(file_html(p, INLINE))
